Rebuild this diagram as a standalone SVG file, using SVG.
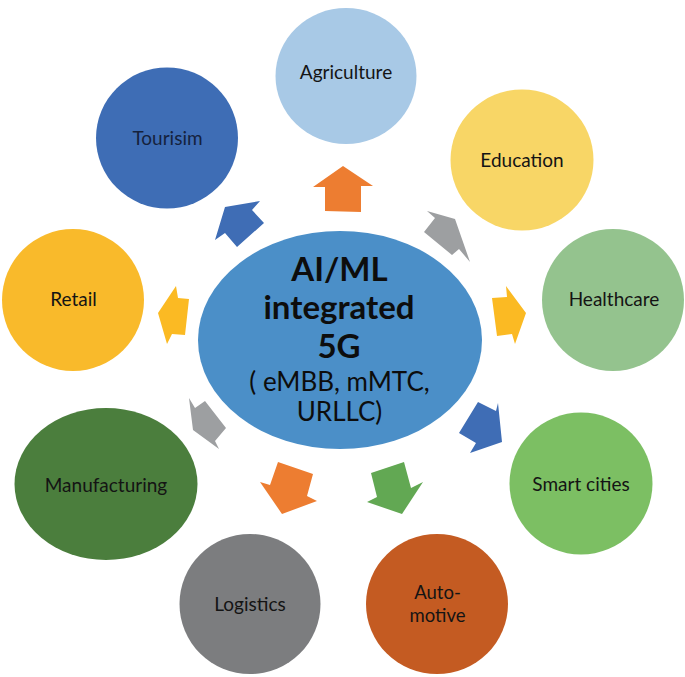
<svg xmlns="http://www.w3.org/2000/svg" width="685" height="677" viewBox="0 0 685 677">
<style>
.lbl{font-family:Lato,"Open Sans","Liberation Sans",sans-serif;font-size:19px;fill:#141414;text-anchor:middle}
.ctb{font-family:Lato,"Open Sans","Liberation Sans",sans-serif;font-size:33px;font-weight:bold;fill:#0d0d0d;text-anchor:middle}
.ctr{font-family:Lato,"Open Sans","Liberation Sans",sans-serif;font-size:26px;fill:#0d0d0d;text-anchor:middle}
</style>
<rect width="685" height="677" fill="#ffffff"/>
<g id="agriculture"><ellipse cx="346" cy="76" rx="70.5" ry="68" fill="#A8C9E6"/><text class="lbl" x="346" y="79">Agriculture</text></g>
<g id="tourism"><ellipse cx="167" cy="138" rx="71" ry="70.5" fill="#3E6DB5"/><text class="lbl" x="167.5" y="144.5" fill="#15223d" style="fill:#15223d">Tourisim</text></g>
<g id="education"><ellipse cx="522" cy="160" rx="71.5" ry="70.5" fill="#F8D666"/><text class="lbl" x="522" y="166.5">Education</text></g>
<g id="retail"><ellipse cx="73" cy="300" rx="71" ry="71" fill="#F9BA2B"/><text class="lbl" x="73.5" y="305.5">Retail</text></g>
<g id="healthcare"><ellipse cx="613" cy="300" rx="71" ry="71" fill="#94C38E"/><text class="lbl" x="614" y="305.5">Healthcare</text></g>
<g id="manufacturing"><ellipse cx="106" cy="484" rx="91.5" ry="76" fill="#4B7E3D"/><text class="lbl" x="106" y="491.5">Manufacturing</text></g>
<g id="smart-cities"><ellipse cx="581" cy="483.5" rx="71.5" ry="71" fill="#7CBF63"/><text class="lbl" x="581" y="491">Smart cities</text></g>
<g id="logistics"><ellipse cx="250" cy="604" rx="70.5" ry="70" fill="#7C7D7F"/><text class="lbl" x="250" y="610.5">Logistics</text></g>
<g id="automotive"><ellipse cx="437" cy="604" rx="71" ry="70" fill="#C45B22"/><text class="lbl" x="437.5" y="598.5" style="font-size:18.5px">Auto-</text><text class="lbl" x="437.5" y="622" style="font-size:18.5px">motive</text></g>
<g id="center"><ellipse cx="340" cy="340" rx="142" ry="109" fill="#4B8FC8"/>
<text class="ctb" x="339.5" y="281">AI/ML</text>
<text class="ctb" x="339" y="319">integrated</text>
<text class="ctb" x="339" y="357.5">5G</text>
<text class="ctr" x="339.5" y="391">( eMBB, mMTC,</text>
<text class="ctr" x="339.5" y="421">URLLC)</text>
</g>
<g id="connectors">
<polygon fill="#ED7D31" points="343,166 373,186 361,186 361,212 325,211 325,187 313,187"/>
<polygon fill="#9D9FA1" points="427,211 455,219 470,262 459,249 452,255 424,232 435,218"/>
<polygon fill="#3F6DB5" points="225,207 260,201 252,210 264,223 237,247 225,233 215,240"/>
<polygon fill="#FBBA23" points="158,313 176,286 178,298 189,299 185,335 172,334 167,344"/>
<polygon fill="#FBBA23" points="492,298 507,297 506,286 526,313 515,344 512,334 497,336"/>
<polygon fill="#3F6DB5" points="478,402 496,411 498,403 502,442 470,453 476,443 459,433"/>
<polygon fill="#62A853" points="371,473 404,462 411,488 423,482 402,514 367,502 377,497"/>
<polygon fill="#ED7D31" points="278,462 313,474 307,496 317,501 282,514 260,482 270,485"/>
<polygon fill="#9D9FA1" points="189,398 195,408 205,401 226,428 215,441 219,449 193,430"/>
</g>
</svg>
